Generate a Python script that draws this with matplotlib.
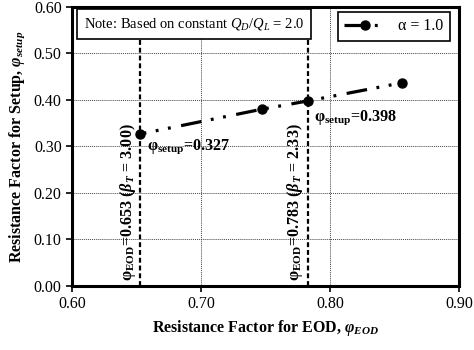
import matplotlib
matplotlib.use("Agg")
import matplotlib.pyplot as plt
from matplotlib.lines import Line2D

# data
phi_eod = [0.653, 0.747, 0.783, 0.856]
phi_setup = [0.327, 0.380, 0.398, 0.437]
target_eod = [0.653, 0.783]
target_beta = ["3.00", "2.33"]
target_setup = ["0.327", "0.398"]
xticks = [0.60, 0.70, 0.80, 0.90]
yticks = [0.00, 0.10, 0.20, 0.30, 0.40, 0.50, 0.60]

plt.rcParams["font.family"] = ["Liberation Serif", "DejaVu Serif"]
plt.rcParams["mathtext.fontset"] = "custom"
plt.rcParams["mathtext.rm"] = "Liberation Serif"
plt.rcParams["mathtext.it"] = "Liberation Serif:italic"
plt.rcParams["mathtext.bf"] = "Liberation Serif:bold"
plt.rcParams["mathtext.bfit"] = "Liberation Serif:italic:bold"

fig = plt.figure(figsize=(4.74, 3.5), dpi=100)
ax = fig.add_axes([0.152, 0.183, 0.816, 0.797])

# long dash - dot - dot, started so the first segment opens with the dots
dash_pat = (6.5, 3, 0.9, 3, 0.9, 3.3)
ax.plot(phi_eod, phi_setup, color="black", lw=2.3, marker="o", markersize=6.5,
        linestyle=(4.6, dash_pat), zorder=4)

for x in target_eod:
    ax.axvline(x, color="black", lw=1.6, linestyle=(0, (2.2, 1.3)), zorder=3)

# rotated labels along the vertical lines
lab_x = [0.6434, 0.7729]
for x, v, b in zip(lab_x, target_eod, target_beta):
    ax.text(x, 0.011, r"$\mathbf{\varphi_{EOD}}$=%.3f ($\mathbfit{\beta_T}$ = %s)" % (v, b),
            rotation=90, ha="center", va="bottom", fontsize=11.6, fontweight="bold")

setup_pos = [(0.658, 0.299), (0.788, 0.361)]
for (x, y), s in zip(setup_pos, target_setup):
    ax.text(x, y, r"$\mathbf{\varphi_{setup}}$=" + s, ha="left", va="center",
            fontsize=11.6, fontweight="bold")

ax.text(0.315, 0.939, r"Note: Based on constant $Q_D/Q_L$ = 2.0", transform=ax.transAxes,
        ha="center", va="center", fontsize=10.5, zorder=6,
        bbox=dict(boxstyle="square,pad=0.45", fc="white", ec="black", lw=1.2))

handle = Line2D([], [], color="black", lw=2.3, marker="o", markersize=6.5,
                linestyle=(0, dash_pat))
leg = ax.legend([handle], ["α = 1.0"], loc="upper right", bbox_to_anchor=(0.977, 0.982),
                borderaxespad=0, fancybox=False, framealpha=1, edgecolor="black",
                fontsize=11.5, handlelength=2.6, numpoints=1)
leg.get_frame().set_linewidth(1.2)
leg.set_zorder(6)

ax.set_xlim(0.60, 0.90)
ax.set_ylim(0.00, 0.60)
ax.set_xticks(xticks)
ax.set_yticks(yticks)
ax.set_xticklabels([f"{t:.2f}" for t in xticks])
ax.set_yticklabels([f"{t:.2f}" for t in yticks])
ax.tick_params(direction="out", length=4, width=1.2, labelsize=11.5, colors="black")
ax.grid(True, color="#444444", linestyle=(0, (1, 1)), lw=0.7, zorder=0)
for sp in ax.spines.values():
    sp.set_linewidth(2.2)
    sp.set_color("black")

ax.set_xlabel(r"Resistance Factor for EOD, $\mathbfit{\varphi_{EOD}}$", fontsize=11.5,
              fontweight="bold", labelpad=4)
ax.set_ylabel(r"Resistance Factor for Setup, $\mathbfit{\varphi_{setup}}$", fontsize=11.5,
              fontweight="bold", labelpad=5)

fig.savefig("out.png", dpi=100)
